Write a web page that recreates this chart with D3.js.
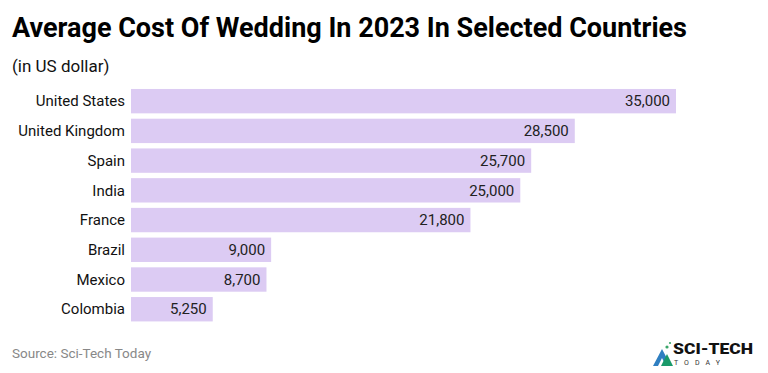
<!DOCTYPE html>
<html>
<head>
<meta charset="utf-8" />
<script src="https://d3js.org/d3.v7.min.js"></script>
<style>
  body { margin: 0; background: #fff; font-family: Roboto, sans-serif; }
  svg { display: block; }
</style>
</head>
<body>
<div id="chart"></div>
<script>
  const countries = ["United States", "United Kingdom", "Spain", "India", "France", "Brazil", "Mexico", "Colombia"];
  const costs = [35000, 28500, 25700, 25000, 21800, 9000, 8700, 5250];

  const width = 768, height = 373;
  const margin = {top: 86, left: 131, right: 92};

  const svg = d3.select("#chart").append("svg")
    .attr("width", width)
    .attr("height", height);

  const x = d3.scaleLinear()
    .domain([0, 35000])
    .range([margin.left, width - margin.right]);

  const y = d3.scaleBand()
    .domain(countries)
    .range([margin.top, margin.top + 29.8 * countries.length])
    .paddingInner(0.18)
    .paddingOuter(0.1);

  svg.append("text")
    .attr("x", 12).attr("y", 37)
    .style("font-size", "27px").style("font-weight", "bold").style("fill", "#000")
    .text("Average Cost Of Wedding In 2023 In Selected Countries");

  svg.append("text")
    .attr("x", 12).attr("y", 72)
    .style("font-size", "17px").style("fill", "#111")
    .text("(in US dollar)");

  const rows = svg.append("g").selectAll("g")
    .data(countries.map((c, i) => ({country: c, cost: costs[i]})))
    .join("g");

  rows.append("rect")
    .attr("x", x(0))
    .attr("y", d => y(d.country))
    .attr("width", d => x(d.cost) - x(0))
    .attr("height", y.bandwidth())
    .attr("fill", "#dccbf3");

  rows.append("text")
    .attr("x", x(0) - 6)
    .attr("y", d => y(d.country) + y.bandwidth() / 2)
    .attr("dy", "0.35em")
    .attr("text-anchor", "end")
    .style("font-size", "15px").style("fill", "#111")
    .text(d => d.country);

  rows.append("text")
    .attr("x", d => x(d.cost) - 6)
    .attr("y", d => y(d.country) + y.bandwidth() / 2)
    .attr("dy", "0.35em")
    .attr("text-anchor", "end")
    .style("font-size", "15px").style("fill", "#222")
    .text(d => d3.format(",")(d.cost));

  svg.append("text")
    .attr("x", 12).attr("y", 358)
    .style("font-size", "13.5px").style("fill", "#888")
    .text("Source: Sci-Tech Today");

  // logo
  const logo = svg.append("g").attr("transform", "translate(652,340)");
  logo.append("path").attr("d", "M1,26 L10,9 L19,26 L14,26 L10,18 L6,26 Z").attr("fill", "#2f7fc1");
  logo.append("path").attr("d", "M9,26 L15,14 L21,26 Z").attr("fill", "#1a9a6a");
  logo.append("circle").attr("cx", 15).attr("cy", 7).attr("r", 1.6).attr("fill", "#3aa66a");
  logo.append("circle").attr("cx", 18).attr("cy", 3).attr("r", 1.1).attr("fill", "#3aa66a");
  logo.append("text")
    .attr("x", 21).attr("y", 14)
    .attr("textLength", 80).attr("lengthAdjust", "spacingAndGlyphs")
    .style("font-size", "15px").style("font-weight", "900").style("fill", "#111")
    .text("SCI-TECH");
  logo.append("text")
    .attr("x", 22).attr("y", 25)
    .attr("textLength", 46)
    .style("font-size", "7px").style("fill", "#333")
    .text("TODAY");
</script>
</body>
</html>
